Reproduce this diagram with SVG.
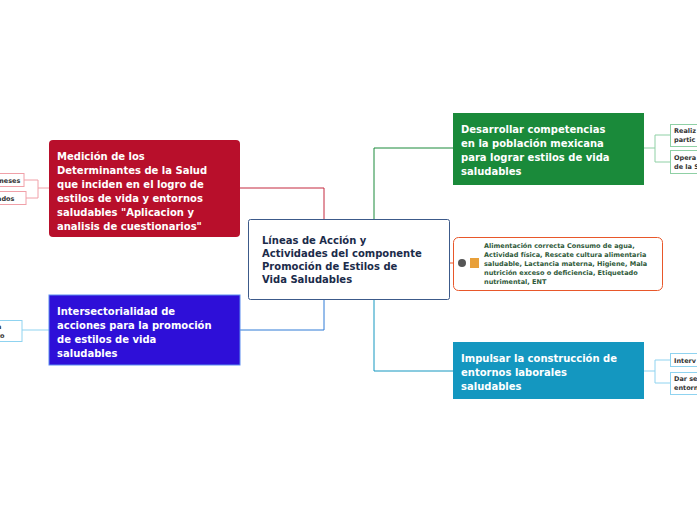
<svg xmlns="http://www.w3.org/2000/svg" width="697" height="520" viewBox="0 0 697 520">
<style>
text{font-family:"DejaVu Sans","Open Sans",sans-serif;font-weight:bold}
.big{font-size:10px;fill:#fff}
.sm{font-size:6.5px;fill:#333}
.n{fill:#2f5a3a}
.c{fill:none;stroke-width:1}
</style>
<rect width="697" height="520" fill="#fff"/>
<g id="connectors">
<path class="c" stroke="#c4283e" d="M324 219V188H240"/>
<path class="c" stroke="#2f7bd6" d="M324 299V330H240"/>
<path class="c" stroke="#1a8a3a" d="M374 219V148H453"/>
<path class="c" stroke="#1497c0" d="M374 299V371H453"/>
<path class="c" stroke="#e8572a" d="M450 263H456"/>
<path class="c" stroke="#f0a0a8" d="M49 188H38M38 180V198M38 180H24M38 198H26"/>
<path class="c" stroke="#8fd3f0" d="M49 330H22"/>
<path class="c" stroke="#8fd0a5" d="M644 148H655M655 135V162M655 135H670M655 162H670"/>
<path class="c" stroke="#8fd3f0" d="M644 371H655M655 360V383M655 360H670M655 383H670"/>
</g>
<g id="center">
<rect x="248.5" y="219.5" width="201" height="80" rx="2" fill="#fff" stroke="#3c5a8a"/>
<text x="262" y="244" font-size="10" fill="#1b2b4a">Líneas de Acción y</text>
<text x="262" y="257" font-size="10" fill="#1b2b4a">Actividades del componente</text>
<text x="262" y="270" font-size="10" fill="#1b2b4a">Promoción de Estilos de</text>
<text x="262" y="283" font-size="10" fill="#1b2b4a">Vida Saludables</text>
</g>
<g id="red">
<rect x="49" y="140" width="191" height="97" rx="4" fill="#b80f2b"/>
<text class="big" x="57" y="160">Medición de los</text>
<text class="big" x="57" y="174">Determinantes de la Salud</text>
<text class="big" x="57" y="188">que inciden en el logro de</text>
<text class="big" x="57" y="202">estilos de vida y entornos</text>
<text class="big" x="57" y="216">saludables "Aplicacion y</text>
<text class="big" x="57" y="230">analisis de cuestionarios"</text>
</g>
<g id="blue">
<rect x="49" y="295" width="191" height="70" fill="#2e0fd8" stroke="#5a8cf0"/>
<text class="big" x="57" y="315">Intersectorialidad de</text>
<text class="big" x="57" y="329">acciones para la promoción</text>
<text class="big" x="57" y="343">de estilos de vida</text>
<text class="big" x="57" y="357">saludables</text>
</g>
<g id="green">
<rect x="453" y="113" width="191" height="72" fill="#1a8a3a"/>
<text class="big" x="461" y="133">Desarrollar competencias</text>
<text class="big" x="461" y="147">en la población mexicana</text>
<text class="big" x="461" y="161">para lograr estilos de vida</text>
<text class="big" x="461" y="175">saludables</text>
</g>
<g id="teal">
<rect x="453" y="342" width="191" height="57" fill="#1497c0"/>
<text class="big" x="461" y="362">Impulsar la construcción de</text>
<text class="big" x="461" y="376">entornos laborales</text>
<text class="big" x="461" y="390">saludables</text>
</g>
<g id="nutrition">
<rect x="453.5" y="237.5" width="209" height="53" rx="5" fill="#fff" stroke="#e8572a"/>
<circle cx="462" cy="263" r="4" fill="#555"/>
<rect x="470" y="258" width="9" height="10" fill="#e8a03a"/>
<text class="sm n" x="484" y="248">Alimentación correcta  Consumo de agua,</text>
<text class="sm n" x="484" y="257">Actividad física, Rescate cultura alimentaria</text>
<text class="sm n" x="484" y="266">saludable, Lactancia materna, Higiene, Mala</text>
<text class="sm n" x="484" y="275">nutrición exceso o deficiencia, Etiquetado</text>
<text class="sm n" x="484" y="284">nutrimental, ENT</text>
</g>
<g id="l1"><rect x="-5" y="173.5" width="29" height="13" fill="#fff" stroke="#f0a0a8"/><text class="sm" x="-3" y="183">meses</text></g>
<g id="l2"><rect x="-5" y="191.5" width="31" height="13" fill="#fff" stroke="#f0a0a8"/><text class="sm" x="-3" y="201">ados</text></g>
<g id="l3"><rect x="-5" y="320.5" width="27" height="21" fill="#fff" stroke="#8fd3f0"/><text class="sm" x="-3" y="329">a</text><text class="sm" x="-3" y="338">to</text></g>
<g id="r1"><rect x="670.5" y="124.5" width="30" height="22" fill="#fff" stroke="#8fd0a5"/><text class="sm" x="674" y="133">Realiz</text><text class="sm" x="674" y="142">partic</text></g>
<g id="r2"><rect x="670.5" y="150.5" width="30" height="23" fill="#fff" stroke="#8fd0a5"/><text class="sm" x="674" y="160">Opera</text><text class="sm" x="674" y="169">de la S</text></g>
<g id="r3"><rect x="670.5" y="353.5" width="30" height="13" fill="#fff" stroke="#8fd3f0"/><text class="sm" x="674" y="363">Interv</text></g>
<g id="r4"><rect x="670.5" y="372.5" width="30" height="22" fill="#fff" stroke="#8fd3f0"/><text class="sm" x="674" y="381">Dar se</text><text class="sm" x="674" y="390">entorn</text></g>
</svg>
